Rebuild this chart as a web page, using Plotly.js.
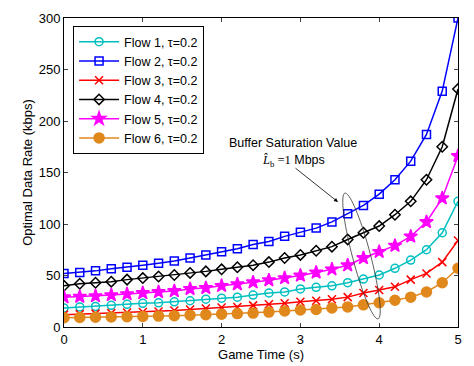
<!DOCTYPE html>
<html>
<head>
<meta charset="utf-8">
<script src="https://cdn.plot.ly/plotly-3.0.1.min.js"></script>
<style>html,body{margin:0;padding:0;background:#fff;}#chart{width:474px;height:366px;}</style>
</head>
<body>
<div id="chart"></div>
<script>
// Game time (s)
var gameTime = [0,0.2,0.4,0.6,0.8,1.0,1.2,1.4,1.6,1.8,2.0,2.2,2.4,2.6,2.8,3.0,3.2,3.4,3.6,3.8,4.0,4.2,4.4,4.6,4.8,5.0];
// Optimal data rate (kbps)
var flow1 = [18.5,19.5,20,21,22,23,23.5,24.5,25.5,27,28,29,31,33,34,37,38.5,40,43,46.5,50.5,57,65,75,91.5,122];
var flow2 = [52,53,54.5,56.5,58,60,62,64,67,70,73,76,80,83,88,92,96,102,110,118,129,143,161,187,229,300];
var flow3 = [12,12.5,13,13.5,14,14.5,15,16,17,18,19,19.5,21,22,23,24.5,25.5,27,29,33,36,39,46,52,63,84];
var flow4 = [40,42,43,44,46,47.5,49,50.5,52.5,54,56,58,60,63,67,70,74,78,85,91.5,98,109,122,143,175,231];
var flow5 = [29,29.5,30,31,32,33,34,35,37,38,40,41.5,43.5,45.5,47.5,50,53,56,60,67,73,79,88,102,125,166];
var flow6 = [9,9.2,9.5,9.8,10,10.3,10.6,11,11.5,12,12.5,13,13.5,14.5,15.5,16.5,17,18.5,19.5,21.5,23.5,26,29,34,43,57];
var seriesNames = ['Flow 1, \u03c4=0.2','Flow 2, \u03c4=0.2','Flow 3, \u03c4=0.2','Flow 4, \u03c4=0.2','Flow 5, \u03c4=0.2','Flow 6, \u03c4=0.2'];
var xTicks = [0,1,2,3,4,5];
var yTicks = [0,50,100,150,200,250,300];

var W = 474, H = 366;
var margin = {l:64, r:16, t:18, b:39};
var xr = [0,5], yr = [0,300];
var pw = W - margin.l - margin.r, ph = H - margin.t - margin.b;
function px2x(p){ return xr[0] + (p - margin.l) / pw * (xr[1]-xr[0]); }
function py2y(p){ return yr[0] + (H - margin.b - p) / ph * (yr[1]-yr[0]); }

// Rotated ellipse (annotation), defined in pixel space
function ellipsePath(cx, cy, a, b, ang){
  var s = '';
  for (var i = 0; i <= 72; i++){
    var t = i / 72 * 2 * Math.PI;
    var ex = a*Math.cos(t), ey = b*Math.sin(t);
    var X = cx + ex*Math.cos(ang) - ey*Math.sin(ang);
    var Y = cy + ex*Math.sin(ang) + ey*Math.cos(ang);
    s += (i===0?'M':'L') + px2x(X).toFixed(4) + ',' + py2y(Y).toFixed(3);
  }
  return s + 'Z';
}
var angle = Math.atan2(125, 33);

var styles = [
  {color:'#00BFBF', symbol:'circle-open', size:8},
  {color:'#0000FF', symbol:'square-open', size:8},
  {color:'#FF0000', symbol:'x-thin-open', size:8},
  {color:'#000000', symbol:'diamond-open', size:8},
  {color:'#FF00FF', symbol:'star', size:10},
  {color:'#E0881C', symbol:'circle', size:10}
];
var ys = [flow1, flow2, flow3, flow4, flow5, flow6];
var traces = ys.map(function(y, i){
  return {
    x: gameTime, y: y, name: seriesNames[i], type:'scatter', mode:'lines+markers',
    line:{color:styles[i].color, width:1.5},
    marker:{color:styles[i].color, symbol:styles[i].symbol, size:styles[i].size,
            line:{color:styles[i].color, width:1.5}}
  };
});

var layout = {
  width: W, height: H, margin: margin,
  paper_bgcolor:'#fff', plot_bgcolor:'#fff',
  font:{family:'Arial, Liberation Sans, sans-serif', size:13, color:'#000'},
  showlegend:true,
  legend:{x:0.023, y:0.974, xanchor:'left', yanchor:'top', bgcolor:'#fff',
          bordercolor:'#000', borderwidth:1, font:{size:12.5}, tracegroupgap:0, itemwidth:40},
  xaxis:{range:xr, tickvals:xTicks, ticks:'inside', ticklen:4, mirror:'ticks',
         showline:true, linecolor:'#000', linewidth:1, showgrid:false, zeroline:false,
         tickfont:{size:13}, title:{text:'Game Time (s)', font:{size:13}, standoff:4}},
  yaxis:{range:yr, tickvals:yTicks, ticks:'inside', ticklen:4, mirror:'ticks',
         showline:true, linecolor:'#000', linewidth:1, showgrid:false, zeroline:false,
         tickfont:{size:13}, title:{text:'Optimal Data Rate (kbps)', font:{size:13}, standoff:3}},
  shapes:[{type:'path', xref:'x', yref:'y', path: ellipsePath(361.5, 256, 65, 9, angle),
           line:{color:'#333', width:0.8}, fillcolor:'rgba(0,0,0,0)'}],
  annotations:[
    {xref:'x', yref:'y', x:px2x(227), y:py2y(143), xanchor:'left', yanchor:'middle',
     text:'Buffer Saturation Value', showarrow:false, font:{size:12.5}},
    {xref:'x', yref:'y', x:px2x(293), y:py2y(161), xanchor:'center', yanchor:'middle',
     text:'<span style="font-family:Liberation Serif,Times New Roman,serif"><i>L\u0302</i><sub>b</sub> =1</span> Mbps', showarrow:false, font:{size:12.5}},
    {xref:'x', yref:'y', x:px2x(338), y:py2y(202), ax:-44, ay:-35, text:'', showarrow:true,
     arrowhead:2, arrowsize:1, arrowwidth:0.8, arrowcolor:'#000'}
  ]
};
Plotly.newPlot('chart', traces, layout, {displayModeBar:false, staticPlot:true});
</script>
</body>
</html>
